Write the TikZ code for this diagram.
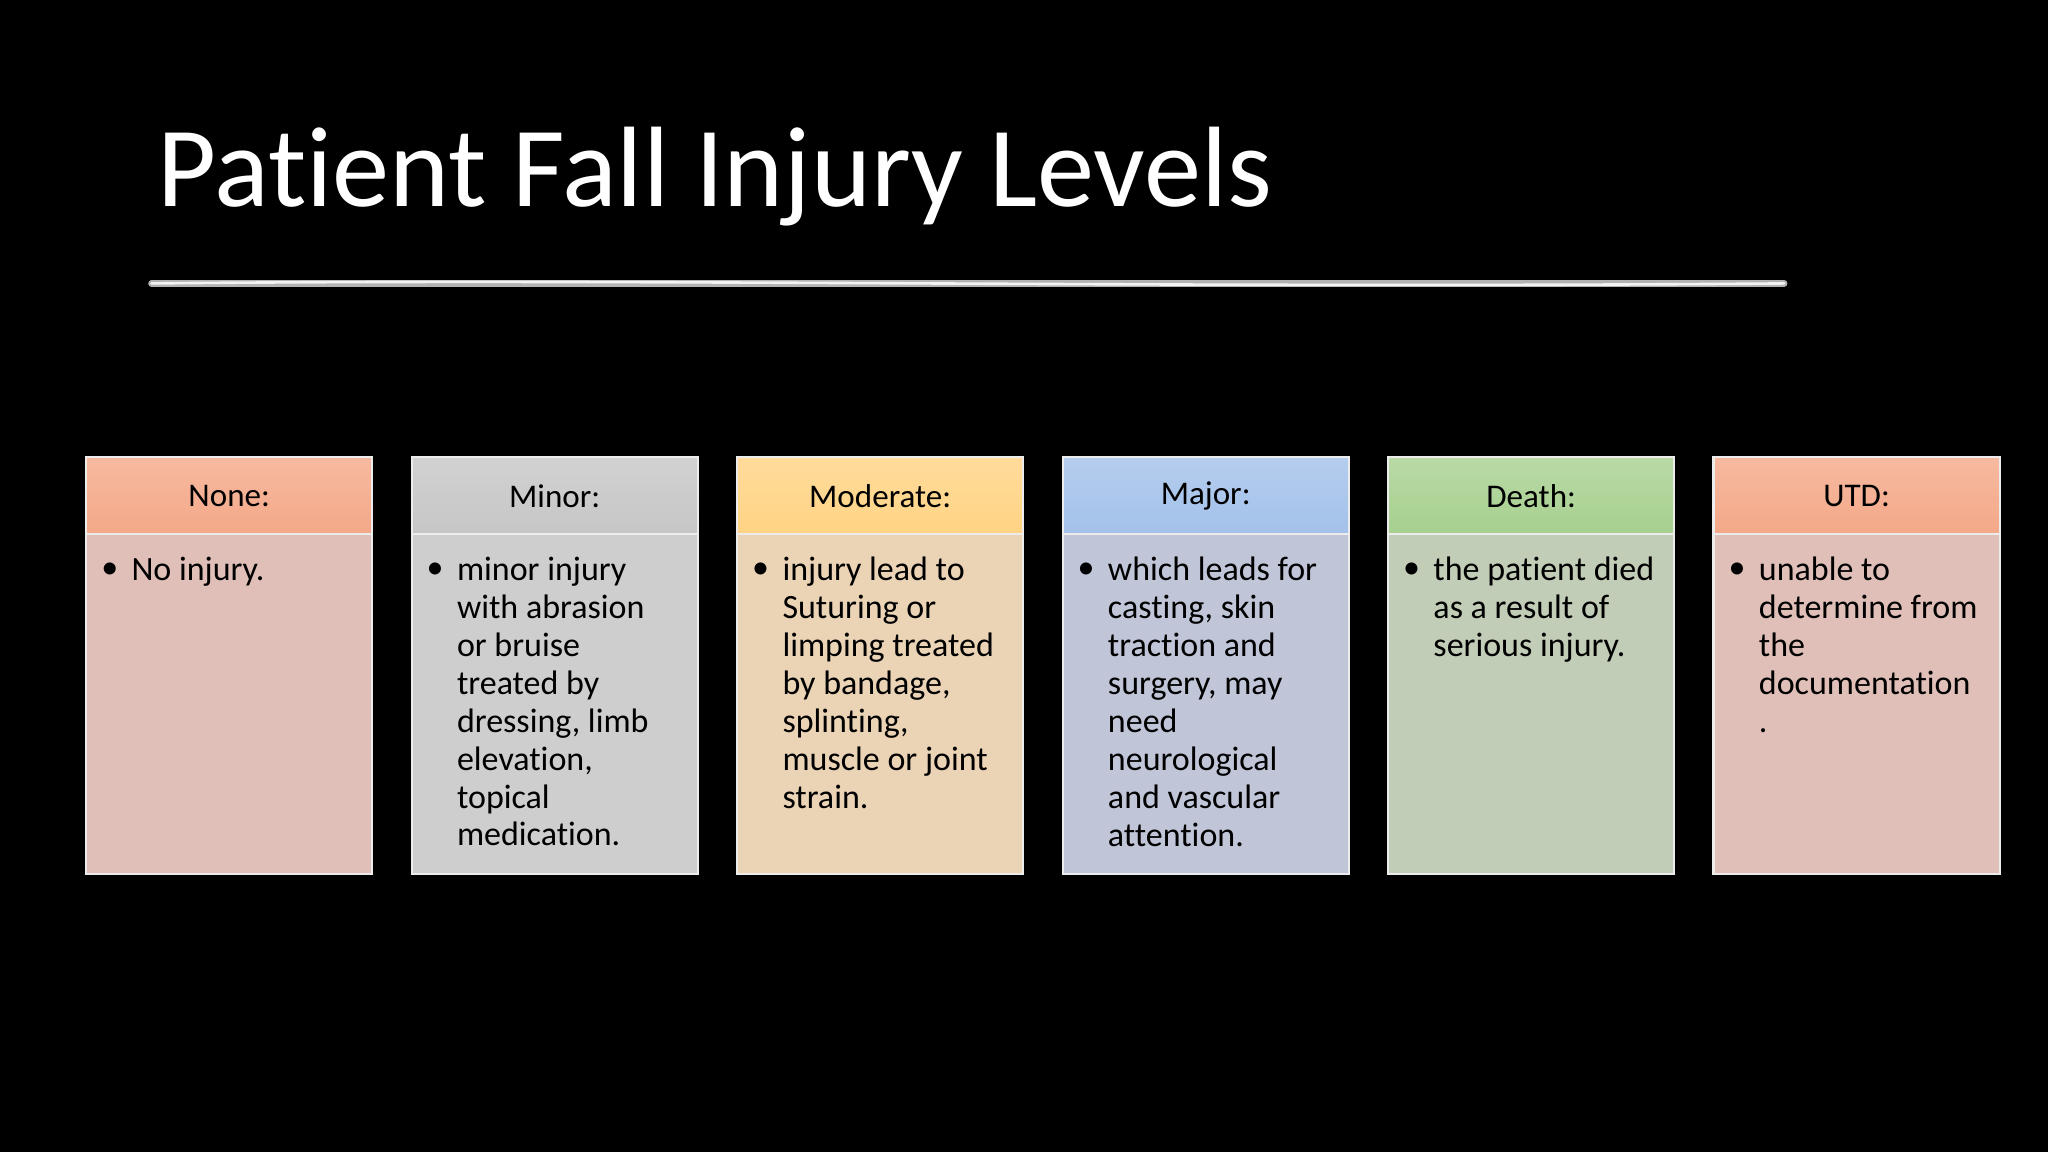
\documentclass[tikz,border=0pt]{standalone}
\usepackage{fontspec}
\setmainfont[Ligatures=NoCommon]{Carlito}
\begin{document}
\begin{tikzpicture}[x=0.01cm,y=-0.01cm,
  hdr/.style={font=\fontsize{7.2}{8.2}\selectfont, text=black},
  body/.style={font=\fontsize{7.4}{8.25}\selectfont, text=black, align=left, anchor=north west, inner sep=0pt}]
\fill[black] (0,0) rectangle (1568,882);
\useasboundingbox (0,0) rectangle (1568,882);
\node[anchor=base west, inner sep=0pt, text=white, font=\fontsize{24.9}{30}\selectfont] (title) at (120,158) {Patient Fall Injury Levels};
\coordinate (l1) at (116,217); \coordinate (l2) at (1366,217);
\draw[line width=0.05cm, color=gray!60, line cap=round] (l1) -- (l2);
\draw[line width=0.02cm, color=white!90!gray, line cap=round] (l1) .. controls (500,213) and (900,221) .. (l2);
\foreach \i/\hc/\bc/\h/\t in {
 0/F4A888/E0BFB8/None:/{No injury.},
 1/C6C6C6/CECECE/Minor:/{minor injury\\with abrasion\\or bruise\\treated by\\dressing, limb\\elevation,\\topical\\medication.},
 2/FFD383/EBD4B6/Moderate:/{injury lead to\\Suturing or\\limping treated\\by bandage,\\splinting,\\muscle or joint\\strain.},
 3/A3C1EA/C0C6D8/Major:/{which leads for\\casting, skin\\traction and\\surgery, may\\need\\neurological\\and vascular\\attention.},
 4/A7D08F/C2CDB7/Death:/{the patient died\\as a result of\\serious injury.},
 5/F4A888/E0BFB8/UTD:/{unable to\\determine from\\the\\documentation\\.}}{
  \pgfmathsetmacro\xx{66+249.2*\i}
  \definecolor{hc\i}{HTML}{\hc}\definecolor{bc\i}{HTML}{\bc}
  \fill[bc\i] (\xx,409) rectangle ++(219,260);
  \shade[top color=hc\i!80!white, bottom color=hc\i] (\xx,350) rectangle ++(219,59);
  \draw[white!85!gray, line width=0.5pt] (\xx,350) rectangle ++(219,319);
  \draw[white!85!gray, line width=0.5pt] (\xx,409) -- ++(219,0);
  \node[hdr] (h\i) at (\xx+109.5,380) {\h};
  \node[body, anchor=base] (d\i) at (\xx+18,443) {•};
  \node[body] (t\i) at (\xx+34,426) {\t};
}
\end{tikzpicture}
\end{document}
